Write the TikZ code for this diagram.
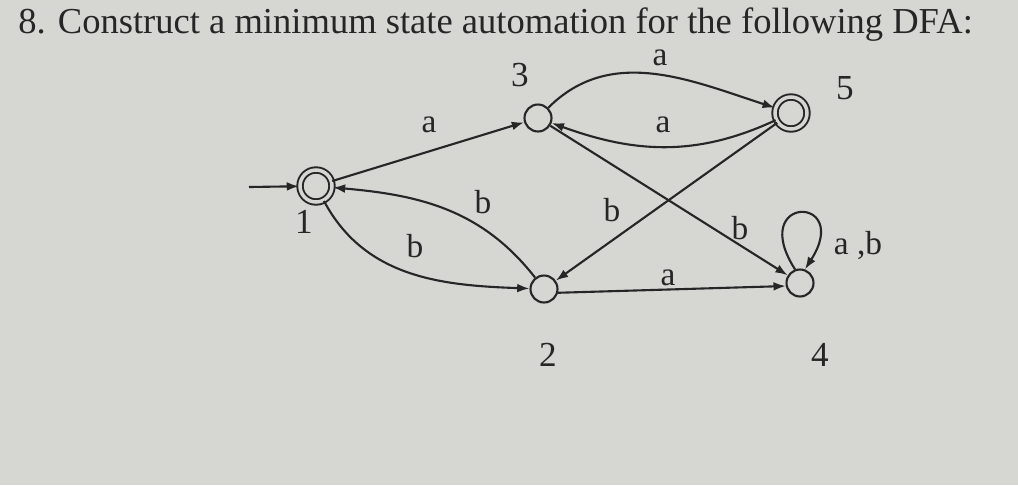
\documentclass[tikz,border=0pt]{standalone}
\usepackage{fontspec}
\setmainfont{Liberation Serif}
\usetikzlibrary{arrows.meta}
\definecolor{paper}{RGB}{214,214,211}
\definecolor{ink}{RGB}{38,38,38}

\begin{document}
\begin{tikzpicture}[x=0.02cm,y=0.02cm,
  state/.style={circle,draw=ink,line width=1.2pt,minimum size=0.54cm,inner sep=0pt},
  accept/.style={circle,draw=ink,line width=1.1pt,double=paper,double distance=2pt,
    minimum size=0.64cm,inner sep=0pt},
  edge/.style={draw=ink,line width=1.2pt,-{Latex[length=7pt,width=5pt]}},
  lbl/.style={text=ink,font=\fontsize{19}{19}\selectfont},
  num/.style={text=ink,font=\fontsize{20}{20}\selectfont}]
  \fill[paper] (0,0) rectangle (1018,-485);
  \useasboundingbox (0,0) rectangle (1018,-485);
  \node[anchor=base west,text=ink,font=\fontsize{20.8}{21}\selectfont,inner sep=0pt] (title) at (18,-33)
    {8. Construct a minimum state automation for the following DFA:};
  % states
  \node[accept] (s1) at (316,-186) {};
  \node[state]  (s3) at (538,-118) {};
  \node[accept] (s5) at (791,-113) {};
  \node[state]  (s2) at (544,-289) {};
  \node[state]  (s4) at (800,-283) {};
  \coordinate (start) at (249,-187);
  \node[num] (n1) at (304,-222) {1};
  \node[num] (n3) at (520,-75) {3};
  \node[num] (n5) at (845,-88) {5};
  \node[num] (n2) at (548,-355) {2};
  \node[num] (n4) at (820,-355) {4};
  % transitions
  \draw[edge] (start) -- (s1);
  \draw[edge] (s1) -- (s3);
  \draw[edge] (s1) to[out=-62,in=178] (s2);
  \draw[edge] (s2) to[out=128,in=-5] (s1);
  \draw[edge] (s3) to[out=45,in=162] (s5);
  \draw[edge] (s5) to[out=-155,in=-20] (s3);
  \draw[edge] (s3) -- (s4);
  \draw[edge] (s5) -- (s2);
  \draw[edge] (s2.-15) -- (s4.-168);
  \draw[edge] (s4.110) .. controls +(-48,75) and +(48,75) .. (s4.70);
  % labels
  \node[lbl] (a13) at (429,-125) {a};
  \node[lbl] (b21) at (483,-202) {b};
  \node[lbl] (b12) at (415,-246) {b};
  \node[lbl] (a35) at (660,-58) {a};
  \node[lbl] (a53) at (663,-125) {a};
  \node[lbl] (b52) at (612,-210) {b};
  \node[lbl] (b34) at (740,-228) {b};
  \node[lbl] (a24) at (668,-278) {a};
  \node[lbl] (ab4) at (858,-245) {a ,b};
\end{tikzpicture}
\end{document}
